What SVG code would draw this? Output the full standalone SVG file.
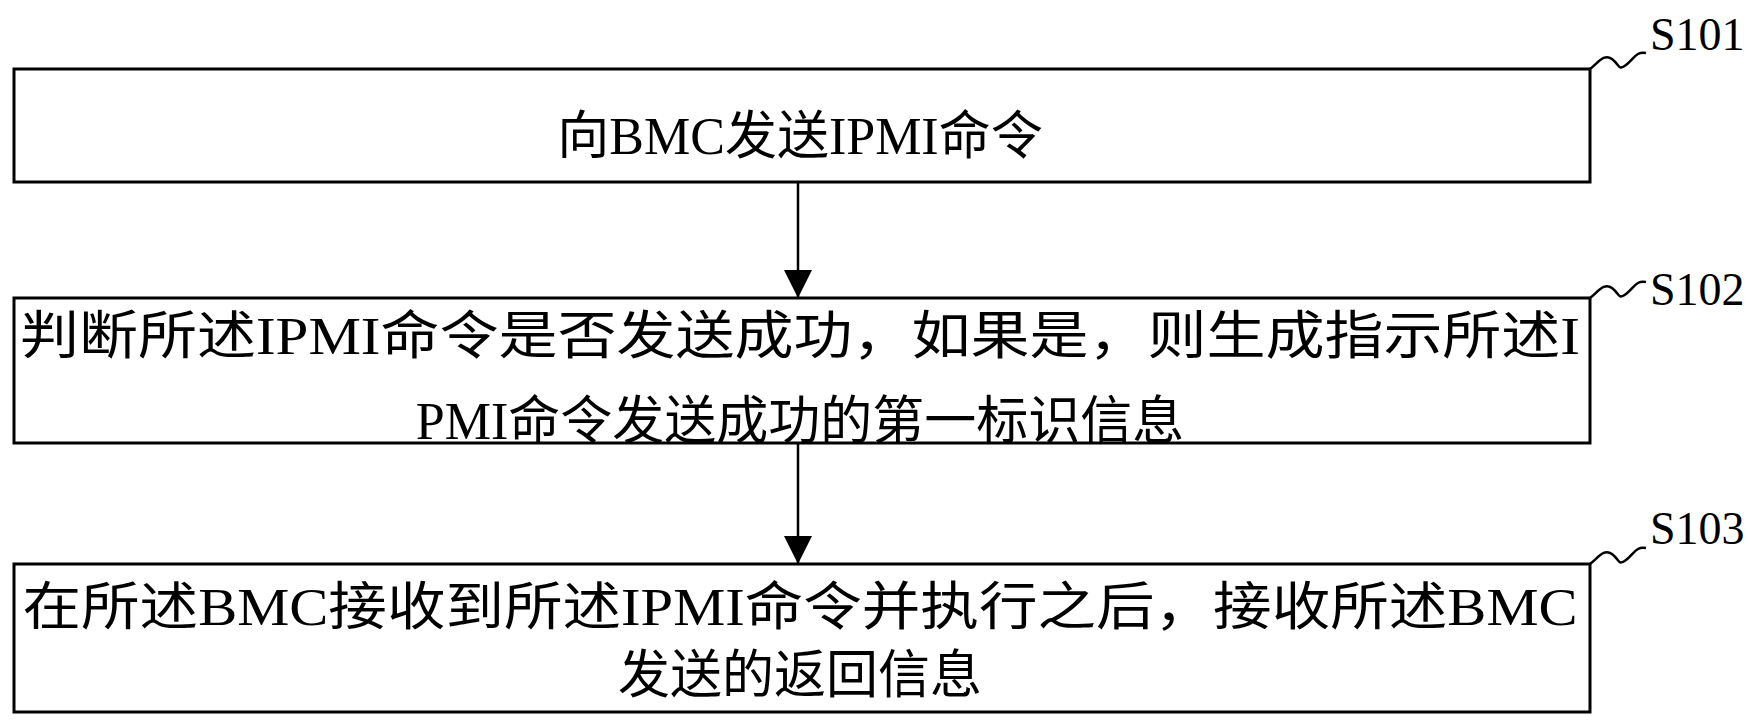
<svg xmlns="http://www.w3.org/2000/svg" width="1750" height="727" viewBox="0 0 1750 727">
<style>
.box{fill:#fff;stroke:#000;stroke-width:3}
.t{font-family:"Liberation Serif","Noto Sans CJK SC",serif;font-size:52px;fill:#000;text-anchor:middle}
.l{font-family:"Liberation Serif",serif;font-size:46px;fill:#000}
.c{fill:none;stroke:#000;stroke-width:2.5}
</style>
<defs>
<marker id="ah" viewBox="0 0 10 10" refX="10" refY="5" markerWidth="28" markerHeight="28" orient="auto" markerUnits="userSpaceOnUse"><path d="M0,0 L10,5 L0,10 Z" fill="#000"/></marker></defs>
<g id="n1"><rect class="box" x="14" y="69" width="1576" height="113"/><text class="t" x="800" y="154">向BMC发送IPMI命令</text></g>
<g id="n2"><rect class="box" x="14" y="298" width="1576" height="145"/><text class="t" x="800" y="354" textLength="1560" lengthAdjust="spacingAndGlyphs">判断所述IPMI命令是否发送成功，如果是，则生成指示所述I</text><text class="t" x="800" y="439">PMI命令发送成功的第一标识信息</text></g>
<g id="n3"><rect class="box" x="14" y="564" width="1576" height="148"/><text class="t" x="800" y="625" textLength="1555" lengthAdjust="spacingAndGlyphs">在所述BMC接收到所述IPMI命令并执行之后，接收所述BMC</text><text class="t" x="800" y="693">发送的返回信息</text></g>
<g id="labels">
<text class="l" x="1650" y="50">S101</text><text class="l" x="1650" y="305">S102</text><text class="l" x="1650" y="544">S103</text>
</g>
<g id="connectors">
<path class="c" d="M1590,69 c8,-6 14,-16 22,-10 s6,12 14,6 s10,-14 20,-12"/>
<path class="c" d="M1590,298 c8,-6 14,-16 22,-10 s6,12 14,6 s10,-14 20,-12"/>
<path class="c" d="M1590,564 c8,-6 14,-16 22,-10 s6,12 14,6 s10,-14 20,-12"/>
<line class="c" x1="798" y1="182" x2="798" y2="298" marker-end="url(#ah)"/>
<line class="c" x1="798" y1="443" x2="798" y2="564" marker-end="url(#ah)"/>
</g>
</svg>
